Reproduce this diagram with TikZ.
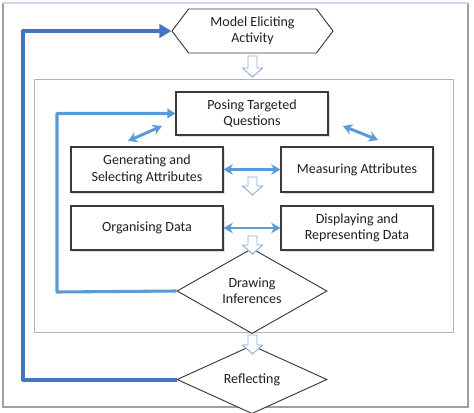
\documentclass[tikz,border=0pt]{standalone}
\usepackage{fontspec}
\setmainfont{Carlito}
\usetikzlibrary{shapes.geometric,shapes.symbols,arrows.meta,shadows}
\definecolor{thickblue}{HTML}{4472C4}
\definecolor{midblue}{HTML}{5B9BD5}
\definecolor{hollowc}{HTML}{8FAADC}
\definecolor{boxline}{HTML}{3A3A3A}
\definecolor{framegray}{HTML}{A0A0A0}
\definecolor{frametop}{HTML}{C9DAEE}
\newcommand\hollowdown[3]{% cx, ytop, ybottom
  \draw[hollowc,fill=white,line width=0.7pt,line join=miter]
    (#1-4.5,#2) -- (#1+4.5,#2) -- (#1+4.5,#3-9) -- (#1+10,#3-9) -- (#1,#3)
    -- (#1-10,#3-9) -- (#1-4.5,#3-9) -- cycle;}
\begin{document}
\begin{tikzpicture}[x=0.75pt,y=-0.75pt,
  every node/.style={font=\fontsize{10.5}{12.3}\selectfont,text=black!88},
  stepbox/.style={draw=boxline,line width=0.8pt,fill=white,align=center,
    minimum width=114pt,inner sep=2pt,
    drop shadow={shadow xshift=1.2pt,shadow yshift=-1.2pt,opacity=0.25}},
  dia/.style={shape=diamond,draw=boxline,line width=0.7pt,fill=white,align=center,
    minimum width=112.5pt,inner sep=0pt},
  hexa/.style={shape=signal,signal to=west and east,signal pointer angle=106,
    draw=boxline,line width=0.7pt,fill=white,align=center,
    minimum width=120.75pt,minimum height=33pt,inner sep=1pt},
  dbl/.style={midblue,line width=2.2pt,{Stealth[length=7pt,width=8pt]}-{Stealth[length=7pt,width=8pt]}},
  loopthick/.style={thickblue,line width=3pt,line join=round,-{Triangle[length=9pt,width=10pt]}},
  loopmid/.style={midblue,line width=2.3pt,line join=round,-{Triangle[length=6pt,width=7pt]}}
]
\useasboundingbox (0,0) rectangle (474,413);
% outer frame
\fill[white] (0,0) rectangle (474,413);
\draw[framegray,line width=0.8pt] (3,3) -- (3,407) -- (468,407) -- (468,3);
\draw[frametop,line width=0.8pt] (3,3) -- (468,3);
% inner frame
\draw[framegray!80,line width=0.7pt,fill=white,
  drop shadow={shadow xshift=0.8pt,shadow yshift=-0.8pt,opacity=0.2}] (34,79) rectangle (453,332);

% nodes
\node[hexa] (mea) at (252.5,31) {Model Eliciting\\Activity};
\node[stepbox,minimum height=32.25pt] (pose) at (252,113.5) {Posing Targeted\\Questions};
\node[stepbox,minimum height=33.75pt] (gen) at (147,169.5) {Generating and\\Selecting Attributes};
\node[stepbox,minimum height=33.75pt] (meas) at (357,169.5) {Measuring Attributes};
\node[stepbox,minimum height=33pt] (org) at (147,228) {Organising Data};
\node[stepbox,minimum height=33pt] (disp) at (357,228) {Displaying and\\Representing Data};
\node[dia,minimum height=42pt] (infer) at (252,291) {Drawing\\Inferences};
\node[dia,minimum height=33.75pt] (refl) at (252,379.5) {Reflecting};

% hollow arrows
\hollowdown{252.5}{56}{77}
\hollowdown{252.5}{177}{195}
\hollowdown{252.5}{236}{254}
\hollowdown{252.5}{335}{354}

% double arrows
\draw[dbl] (gen.east) -- (meas.west);
\draw[dbl] (org.east) -- (disp.west);
\coordinate (dl1) at (162,126);
\coordinate (dl2) at (128,141);
\coordinate (dr1) at (343,126);
\coordinate (dr2) at (378,140);
\draw[dbl] (dl1) -- (dl2);
\draw[dbl] (dr1) -- (dr2);

% feedback loops
\coordinate (loopB) at (57,292);
\draw[loopmid] (infer.west) -- (loopB) |- (pose.west);
\coordinate (loopA) at (23,379.5);
\draw[loopthick] (refl.west) -- (loopA) |- (mea.west);
\end{tikzpicture}
\end{document}
